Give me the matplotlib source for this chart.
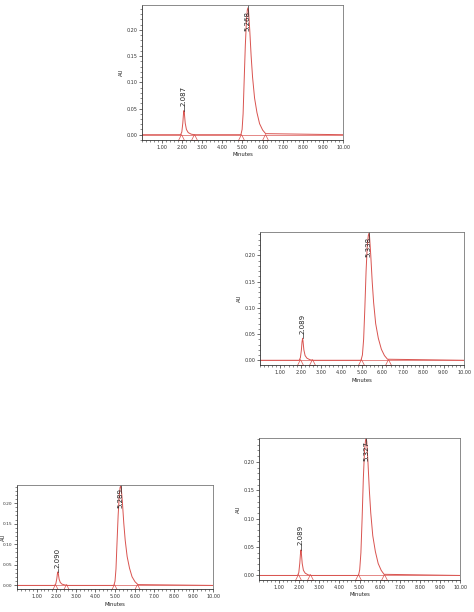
import matplotlib
matplotlib.use("Agg")
import matplotlib.pyplot as plt
from matplotlib.ticker import MultipleLocator, FormatStrFormatter

# ---------------- data ----------------
# Panel A (top)
time_a = [0.0, 1.92, 1.98, 2.03, 2.06, 2.087, 2.11, 2.15, 2.21, 2.3, 2.45, 2.6,
          4.92, 4.98, 5.03, 5.08, 5.14, 5.2, 5.24, 5.268, 5.3, 5.36, 5.43, 5.5, 5.6,
          5.72, 5.85, 6.0, 6.15, 10.0]
au_a = [0.0, 0.0, 0.005, 0.022, 0.038, 0.046, 0.04, 0.022, 0.01, 0.004, 0.001, 0.0,
        0.0, 0.01, 0.04, 0.1, 0.17, 0.22, 0.238, 0.242, 0.236, 0.2, 0.15, 0.11, 0.07,
        0.042, 0.021, 0.009, 0.002, 0.0]
rt_a = [2.087, 5.268]
apex_a = [0.046, 0.242]
marks_a = [1.95, 2.57, 4.95, 6.12]

# Panel B (middle right)
time_b = [0.0, 1.92, 1.98, 2.03, 2.06, 2.089, 2.11, 2.15, 2.21, 2.3, 2.45, 2.6,
          4.95, 5.02, 5.08, 5.14, 5.2, 5.26, 5.31, 5.338, 5.37, 5.43, 5.5, 5.57, 5.67,
          5.8, 5.95, 6.1, 6.25, 10.0]
au_b = [0.0, 0.0, 0.005, 0.02, 0.035, 0.042, 0.036, 0.02, 0.009, 0.004, 0.001, 0.0,
        0.0, 0.01, 0.04, 0.1, 0.17, 0.22, 0.238, 0.242, 0.236, 0.2, 0.15, 0.11, 0.07,
        0.042, 0.021, 0.009, 0.002, 0.0]
rt_b = [2.089, 5.338]
apex_b = [0.042, 0.242]
marks_b = [1.95, 2.55, 4.97, 6.25]

# Panel C (bottom left)
time_c = [0.0, 1.92, 1.98, 2.03, 2.06, 2.09, 2.11, 2.15, 2.21, 2.3, 2.45, 2.6,
          4.94, 5.0, 5.05, 5.1, 5.16, 5.22, 5.26, 5.289, 5.32, 5.38, 5.45, 5.52, 5.62,
          5.74, 5.87, 6.02, 6.17, 10.0]
au_c = [0.0, 0.0, 0.004, 0.016, 0.028, 0.033, 0.028, 0.015, 0.007, 0.003, 0.001, 0.0,
        0.0, 0.01, 0.04, 0.1, 0.17, 0.22, 0.238, 0.242, 0.236, 0.2, 0.15, 0.11, 0.07,
        0.042, 0.021, 0.009, 0.002, 0.0]
rt_c = [2.090, 5.289]
apex_c = [0.033, 0.242]
marks_c = [1.95, 2.52, 4.95, 6.12]

# Panel D (bottom right)
time_d = [0.0, 1.92, 1.98, 2.03, 2.06, 2.089, 2.11, 2.15, 2.21, 2.3, 2.45, 2.6,
          4.95, 5.01, 5.07, 5.13, 5.19, 5.25, 5.3, 5.327, 5.36, 5.42, 5.49, 5.56, 5.66,
          5.79, 5.93, 6.08, 6.22, 10.0]
au_d = [0.0, 0.0, 0.005, 0.022, 0.037, 0.045, 0.038, 0.021, 0.009, 0.004, 0.001, 0.0,
        0.0, 0.01, 0.04, 0.1, 0.17, 0.22, 0.238, 0.242, 0.236, 0.2, 0.15, 0.11, 0.07,
        0.042, 0.021, 0.009, 0.002, 0.0]
rt_d = [2.089, 5.327]
apex_d = [0.045, 0.242]
marks_d = [1.93, 2.55, 4.95, 6.2]

x_ticks = [1, 2, 3, 4, 5, 6, 7, 8, 9, 10]
y_ticks = [0.0, 0.05, 0.10, 0.15, 0.20]

# ---------------- layout ----------------
W, H = 474, 612
fig = plt.figure(figsize=(W / 100, H / 100), dpi=100)
fig.patch.set_facecolor("white")

# pixel boxes: left, right, top, bottom ; y-limits
panels = [
    (time_a, au_a, rt_a, apex_a, marks_a, (142, 343, 5, 140), (-0.0101, 0.2475)),
    (time_b, au_b, rt_b, apex_b, marks_b, (260, 464, 232, 365), (-0.009, 0.2447)),
    (time_c, au_c, rt_c, apex_c, marks_c, (17, 213, 485, 589), (-0.0087, 0.244)),
    (time_d, au_d, rt_d, apex_d, marks_d, (259, 460, 438, 580), (-0.008, 0.242)),
]

red = "#d9534f"
for i, (t, a, rts, apx, marks, (l, r, tp, b), ylim) in enumerate(panels):
    ax = fig.add_axes([l / W, 1 - b / H, (r - l) / W, (b - tp) / H])
    ax.set_xlim(0.0, 10.0)
    ax.set_ylim(*ylim)
    ax.axhline(0.0, color=red, lw=0.6, alpha=0.8)
    ax.plot(t, a, color=red, lw=0.7)
    ax.plot(marks, [-0.0035] * len(marks), linestyle="none", marker="^",
            ms=4, mfc="none", mec=red, mew=0.5)
    # small peak label
    ax.plot([rts[0], rts[0]], [apx[0], apx[0] + 0.008], color="#333333", lw=0.5)
    ax.text(rts[0], apx[0] + 0.009, f"{rts[0]:.3f}", rotation=90, ha="center",
            va="bottom", fontsize=5, color="#222222")
    # main peak label (overlapping top of the peak)
    ax.plot([rts[1], rts[1]], [apx[1] - 0.01, ylim[1]], color="#333333", lw=0.5)
    ax.text(rts[1], apx[1] - 0.006, f"{rts[1]:.3f}", rotation=90, ha="center",
            va="top", fontsize=5, color="#222222")

    ax.set_xticks(x_ticks)
    ax.set_yticks(y_ticks)
    ax.xaxis.set_major_formatter(FormatStrFormatter("%.2f"))
    ax.yaxis.set_major_formatter(FormatStrFormatter("%.2f"))
    ax.xaxis.set_minor_locator(MultipleLocator(0.2))
    ax.yaxis.set_minor_locator(MultipleLocator(0.01))
    ax.tick_params(which="major", length=2.2, width=0.5, labelsize=3.5, pad=1.2,
                   colors="#333333")
    ax.tick_params(which="minor", length=1.2, width=0.4, colors="#333333")
    ax.set_xlabel("Minutes", fontsize=3.8, labelpad=2, color="#222222")
    ax.set_ylabel("AU", fontsize=3.8, labelpad=2, color="#222222")
    if i == 2:
        ax.yaxis.set_label_coords(-0.055, 0.5)
        ax.tick_params(axis="y", which="major", labelsize=3.2, pad=0.8)
    for s in ax.spines.values():
        s.set_linewidth(0.6)
        s.set_color("#777777")
    ax.spines["left"].set_color("#333333")
    ax.spines["bottom"].set_color("#333333")

fig.savefig("out.png", dpi=100, facecolor="white")
